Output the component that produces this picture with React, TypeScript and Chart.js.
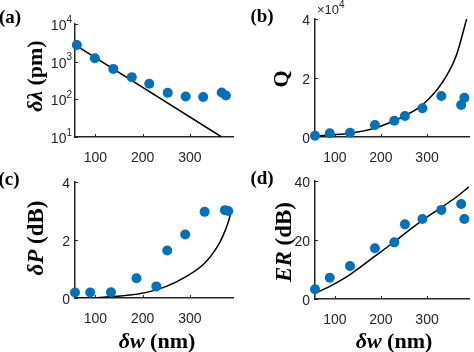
import React, { useEffect, useRef } from 'react';
import { Chart, registerables } from 'chart.js';

Chart.register(...registerables);

// ---------- data ----------
const X_MIN = 57;
const X_MAX = 391;
const X_TICKS = [100, 200, 300];

// (a) spectral shift (log axis)
const widthA = [61, 99, 138, 177, 214, 253, 291, 328, 367, 376];
const deltaLambda = [2780, 1235, 643, 388, 258, 149, 119, 115, 152, 126];
const fitWidthA = [57, 367];
const fitDeltaLambda = [2800, 10];
const logTicksA = [10, 100, 1000, 10000];
const logBaseA = '10';
const logExpA = ['1', '2', '3', '4'];

// (b)(c)(d) shared widths
const widthBCD = [57, 89, 133, 187, 229, 252, 290, 331, 374, 381];

// (b) Q factor
const qFactor = [400, 1250, 1460, 4070, 5530, 7120, 9730, 13900, 10850, 13320];
const fitWidthB = [57, 89, 133, 187, 229, 252, 290, 331, 362, 386];
const fitQ = [300, 700, 1300, 3000, 5500, 7200, 10900, 18000, 27000, 40000];
const qTicks = [0, 20000, 40000];

// (c) power difference
const deltaP = [0.19, 0.19, 0.2, 0.68, 0.4, 1.64, 2.19, 2.97, 3.03, 3.0];
const fitWidthC = [57, 110, 173, 215, 250, 290, 331, 356, 370, 381, 386];
const fitDeltaP = [0, 0.02, 0.1, 0.22, 0.4, 0.72, 1.2, 1.72, 2.15, 2.62, 2.9];
const pTicks = [0, 2, 4];

// (d) extinction ratio
const extinction = [3.3, 7.2, 11.2, 17.2, 19.2, 25.3, 27.1, 30.2, 32.2, 27.1];
const fitWidthD = [57, 89, 133, 187, 229, 251, 289, 329, 362, 391];
const fitER = [1.9, 4.3, 8.3, 14.5, 19.4, 22.1, 26.6, 30.8, 34.4, 38.0];
const erTicks = [0, 20, 40];

// ---------- style ----------
const W = 474;
const H = 352;
const BLUE = '#0072BD';
const AXIS = '#262626';
const FONT_SANS = "'Liberation Sans', Arial, sans-serif";
const FONT_SERIF = "'Liberation Serif', 'Times New Roman', serif";
const Y_W = 40;
const X_H = 30;
const TICK_SIZE = 14;

const zip = (xs: number[], ys: number[]) => xs.map((x, i) => ({ x, y: ys[i] }));

const innerTicks = {
  id: 'innerTicks',
  beforeDatasetsDraw(chart: any) {
    const { ctx, chartArea } = chart;
    const xs = chart.scales.x;
    const ys = chart.scales.y;
    ctx.save();
    ctx.strokeStyle = AXIS;
    ctx.lineWidth = 1;
    ctx.beginPath();
    xs.ticks.forEach((t: any) => {
      const px = Math.round(xs.getPixelForValue(t.value)) + 0.5;
      ctx.moveTo(px, chartArea.bottom);
      ctx.lineTo(px, chartArea.bottom - 3);
    });
    ys.ticks.forEach((t: any) => {
      const py = Math.round(ys.getPixelForValue(t.value)) + 0.5;
      ctx.moveTo(chartArea.left, py);
      ctx.lineTo(chartArea.left + 3, py);
    });
    ctx.stroke();
    ctx.restore();
  },
};

// power-of-ten labels for the log axis of panel (a)
const powerLabels = {
  id: 'powerLabels',
  afterDraw(chart: any) {
    const { ctx, chartArea } = chart;
    const ys = chart.scales.y;
    ctx.save();
    ctx.fillStyle = AXIS;
    ctx.textBaseline = 'middle';
    ctx.textAlign = 'right';
    logTicksA.forEach((v, i) => {
      const py = ys.getPixelForValue(v);
      const x0 = chartArea.left - 3;
      ctx.font = `10px ${FONT_SANS}`;
      const ew = ctx.measureText(logExpA[i]).width;
      ctx.fillText(logExpA[i], x0, py - 4);
      ctx.font = `${TICK_SIZE}px ${FONT_SANS}`;
      ctx.fillText(logBaseA, x0 - ew, py + 2);
    });
    ctx.restore();
  },
};

type Geom = { left: number; right: number; top: number; bottom: number };

function scatterSet(xs: number[], ys: number[]) {
  return {
    data: zip(xs, ys),
    backgroundColor: BLUE,
    borderWidth: 0,
    pointRadius: 5,
    pointStyle: 'circle',
    showLine: false,
    clip: false,
    order: 1,
  };
}

function fitSet(xs: number[], ys: number[]) {
  return {
    data: zip(xs, ys),
    borderColor: '#000',
    borderWidth: 1.5,
    pointRadius: 0,
    showLine: true,
    cubicInterpolationMode: 'monotone',
    fill: false,
    order: 2,
  };
}

function PanelChart({
  geom,
  datasets,
  yScale,
  extra,
}: {
  geom: Geom;
  datasets: any[];
  yScale: any;
  extra?: any[];
}) {
  const ref = useRef<HTMLCanvasElement>(null);
  useEffect(() => {
    const tickFont = { family: FONT_SANS, size: TICK_SIZE };
    const chart = new Chart(ref.current as HTMLCanvasElement, {
      type: 'scatter',
      data: { datasets },
      options: {
        animation: false,
        responsive: false,
        devicePixelRatio: 1,
        events: [],
        layout: {
          padding: {
            left: geom.left - Y_W,
            right: W - geom.right,
            top: geom.top,
            bottom: H - geom.bottom - X_H,
          },
        },
        plugins: { legend: { display: false }, tooltip: { enabled: false } },
        scales: {
          x: {
            type: 'linear',
            min: X_MIN,
            max: X_MAX,
            afterBuildTicks: (s: any) => {
              s.ticks = X_TICKS.map((value) => ({ value }));
            },
            afterFit: (s: any) => {
              s.height = X_H;
            },
            grid: { display: false, drawTicks: false },
            border: { display: true, color: AXIS, width: 1.5 },
            ticks: { font: tickFont, color: AXIS, padding: 13, maxRotation: 0, autoSkip: false },
          },
          y: {
            ...yScale,
            afterFit: (s: any) => {
              s.width = Y_W;
            },
            grid: { display: false, drawTicks: false },
            border: { display: true, color: AXIS, width: 1.5 },
            ticks: {
              ...(yScale.ticks || {}),
              font: tickFont,
              color: AXIS,
              padding: 5,
              labelOffset: 2,
              autoSkip: false,
            },
          },
        },
      } as any,
      plugins: [innerTicks, ...(extra || [])],
    });
    return () => chart.destroy();
  }, []);
  return (
    <canvas
      ref={ref}
      width={W}
      height={H}
      style={{ position: 'absolute', left: 0, top: 0, width: W, height: H }}
    />
  );
}

function Label({ x, y, size, rotate, children }: any) {
  return (
    <div
      style={{
        position: 'absolute',
        left: x,
        top: y,
        transform: `translate(-50%, -50%)${rotate ? ' rotate(-90deg)' : ''}`,
        fontFamily: FONT_SERIF,
        fontWeight: 'bold',
        fontSize: size,
        lineHeight: 1,
        whiteSpace: 'nowrap',
        color: '#000',
      }}
    >
      {children}
    </div>
  );
}

const geomA: Geom = { left: 75, right: 233, top: 24, bottom: 137 };
const geomB: Geom = { left: 315, right: 474, top: 19, bottom: 137 };
const geomC: Geom = { left: 75, right: 233, top: 182, bottom: 298 };
const geomD: Geom = { left: 315, right: 474, top: 181, bottom: 299 };

export default function App() {
  const yA = {
    type: 'logarithmic',
    min: 10,
    max: 10000,
    afterBuildTicks: (s: any) => {
      s.ticks = logTicksA.map((value) => ({ value }));
    },
    ticks: { callback: () => '' },
  };
  const yB = {
    type: 'linear',
    min: 0,
    max: 40000,
    afterBuildTicks: (s: any) => {
      s.ticks = qTicks.map((value) => ({ value }));
    },
    ticks: { callback: (v: number) => String(v / 10000) },
  };
  const yC = {
    type: 'linear',
    min: 0,
    max: 4,
    afterBuildTicks: (s: any) => {
      s.ticks = pTicks.map((value) => ({ value }));
    },
  };
  const yD = {
    type: 'linear',
    min: 0,
    max: 40,
    afterBuildTicks: (s: any) => {
      s.ticks = erTicks.map((value) => ({ value }));
    },
  };

  return (
    <div
      style={{
        position: 'fixed',
        left: 0,
        top: 0,
        width: W,
        height: H,
        background: '#fff',
        overflow: 'hidden',
      }}
    >
      <PanelChart
        geom={geomA}
        yScale={yA}
        extra={[powerLabels]}
        datasets={[scatterSet(widthA, deltaLambda), fitSet(fitWidthA, fitDeltaLambda)]}
      />
      <PanelChart
        geom={geomB}
        yScale={yB}
        datasets={[scatterSet(widthBCD, qFactor), fitSet(fitWidthB, fitQ)]}
      />
      <PanelChart
        geom={geomC}
        yScale={yC}
        datasets={[scatterSet(widthBCD, deltaP), fitSet(fitWidthC, fitDeltaP)]}
      />
      <PanelChart
        geom={geomD}
        yScale={yD}
        datasets={[scatterSet(widthBCD, extinction), fitSet(fitWidthD, fitER)]}
      />

      {/* panel letters */}
      <Label x={10} y={16} size={19}>(a)</Label>
      <Label x={262} y={15} size={19}>(b)</Label>
      <Label x={9} y={178} size={19}>(c)</Label>
      <Label x={262} y={177} size={19}>(d)</Label>

      {/* y titles */}
      <Label x={35} y={76} size={22} rotate>
        <i>δλ</i> (pm)
      </Label>
      <Label x={281} y={79} size={22} rotate>
        Q
      </Label>
      <Label x={35} y={238} size={23} rotate>
        <i>δP</i> (dB)
      </Label>
      <Label x={283} y={242} size={23} rotate>
        <i>ER</i> (dB)
      </Label>

      {/* x titles */}
      <Label x={157} y={341} size={22}>
        <i>δw</i> (nm)
      </Label>
      <Label x={394} y={341} size={22}>
        <i>δw</i> (nm)
      </Label>

      {/* exponent of Q axis */}
      <div
        style={{
          position: 'absolute',
          left: 317,
          top: 3,
          fontFamily: FONT_SANS,
          fontSize: 13,
          lineHeight: 1,
          color: AXIS,
          whiteSpace: 'nowrap',
        }}
      >
        ×10<span style={{ fontSize: 10, position: 'relative', top: -6 }}>4</span>
      </div>
    </div>
  );
}
